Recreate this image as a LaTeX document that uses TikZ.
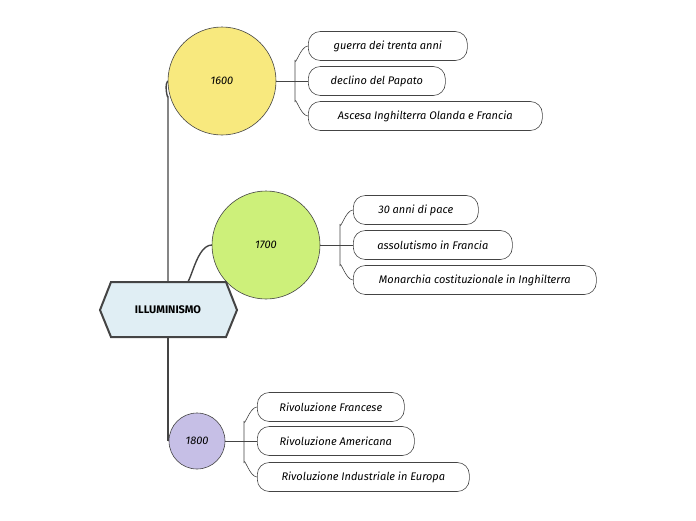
\documentclass[tikz,border=0pt]{standalone}
\usepackage{fontspec}
\setmainfont{Fira Sans}
\usetikzlibrary{shapes.geometric}
\definecolor{yel}{HTML}{F8E97E}
\definecolor{grn}{HTML}{CDF07A}
\definecolor{pur}{HTML}{C6BFE6}
\definecolor{hexf}{HTML}{E0EEF4}
\definecolor{ln}{HTML}{444444}
\tikzset{
 leaf/.style={draw=ln,rounded corners=12pt,minimum height=29pt,anchor=west,inner xsep=10pt,font=\fontsize{11}{13}\selectfont\itshape,line width=0.6pt},
 circ/.style={circle,draw=ln,line width=0.6pt,font=\fontsize{11}{13}\selectfont\itshape},
 conn/.style={draw=ln,line width=1.4pt},
 br/.style={draw=ln,line width=0.6pt}
}
\begin{document}
\begin{tikzpicture}[x=1pt,y=-1pt]
\useasboundingbox (0,0) rectangle (696,520);
% hexagon
\node[regular polygon,regular polygon sides=6,shape border rotate=0,draw=none] (dummy) at (168,310) {};
\coordinate (hc) at (168,310);
\draw[conn] (168,282) -- (168,96) to[out=-90,in=180] (169,81);
\draw[conn] (168,337) -- (168,441);
\draw[conn] (181,282) to[out=-60,in=180] (212,245);
\node[circ,fill=yel,minimum size=108pt] (c1) at (222,81) {1600};
\node[circ,fill=grn,minimum size=108pt] (c2) at (266,245) {1700};
\node[circ,fill=pur,minimum size=56pt] (c3) at (197,441) {1800};
\draw[ln,line width=2pt,fill=hexf] (100,310) -- (111,282) -- (226,282) -- (237,310) -- (226,337) -- (111,337) -- cycle;
\node[font=\fontsize{11}{13}\selectfont\bfseries] (h) at (168,310) {ILLUMINISMO};
% leaves
\node[leaf,minimum width=159pt] (a1) at (308,46) {guerra dei trenta anni};
\node[leaf,minimum width=137pt] (a2) at (308,81) {declino del Papato};
\node[leaf,minimum width=234pt] (a3) at (308,116) {Ascesa Inghilterra Olanda e Francia};
\node[leaf,minimum width=125pt] (b1) at (353,210) {30 anni di pace};
\node[leaf,minimum width=159pt] (b2) at (353,245) {assolutismo in Francia};
\node[leaf,minimum width=243pt] (b3) at (353,280) {Monarchia costituzionale in Inghilterra};
\node[leaf,minimum width=147pt] (d1) at (257,407) {Rivoluzione Francese};
\node[leaf,minimum width=157pt] (d2) at (257,441) {Rivoluzione Americana};
\node[leaf,minimum width=212pt] (d3) at (257,477) {Rivoluzione Industriale in Europa};
% brackets
\draw[br] (c1.east) -- (295,81);
\draw[br] (a1.west) to[out=180,in=-90] (295,60) -- (295,102) to[out=90,in=180] (a3.west);
\draw[br] (295,81) -- (a2.west);
\draw[br] (c2.east) -- (340,245);
\draw[br] (b1.west) to[out=180,in=-90] (340,224) -- (340,266) to[out=90,in=180] (b3.west);
\draw[br] (340,245) -- (b2.west);
\draw[br] (c3.east) -- (244,441);
\draw[br] (d1.west) to[out=180,in=-90] (244,421) -- (244,463) to[out=90,in=180] (d3.west);
\draw[br] (244,441) -- (d2.west);
\end{tikzpicture}
\end{document}
